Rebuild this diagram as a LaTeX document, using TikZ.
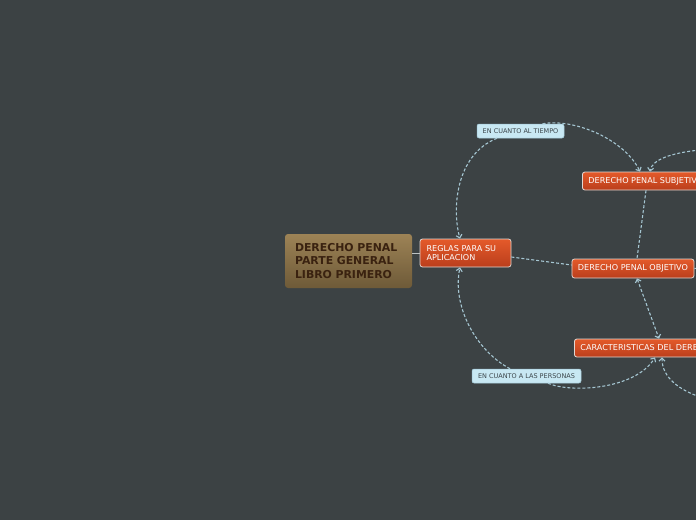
\documentclass[tikz,border=0pt]{standalone}
\usepackage{fontspec}
\setmainfont{DejaVu Sans}
\usetikzlibrary{arrows.meta}
\definecolor{bg}{RGB}{60,66,68}
\definecolor{maintop}{RGB}{157,131,86}
\definecolor{mainbot}{RGB}{110,90,56}
\definecolor{maintext}{RGB}{58,34,16}
\definecolor{ortop}{RGB}{228,90,42}
\definecolor{orbot}{RGB}{186,62,28}
\definecolor{orborder}{RGB}{225,215,210}
\definecolor{lblfill}{RGB}{200,232,243}
\definecolor{lbldraw}{RGB}{160,200,215}
\definecolor{lbltext}{RGB}{60,70,75}
\definecolor{rel}{RGB}{165,198,210}
\definecolor{solidline}{RGB}{190,195,195}
\tikzset{
  mainbox/.style={rounded corners=3pt, top color=maintop, bottom color=mainbot,
    text=maintext, font=\fontsize{10.9}{13.8}\selectfont\bfseries,
    align=left, text width=107pt, inner xsep=10pt, minimum height=54pt},
  orbox/.style={rounded corners=2.5pt, top color=ortop, bottom color=orbot,
    draw=orborder, line width=0.8pt, text=white,
    font=\fontsize{8.1}{9.2}\selectfont, minimum height=18pt, inner xsep=6pt},
  lbl/.style={rounded corners=2pt, fill=lblfill, draw=lbldraw, line width=0.5pt,
    text=lbltext, font=\fontsize{6.5}{7}\selectfont, minimum height=14pt, inner sep=1pt},
  relline/.style={draw=rel, line width=1.1pt, dash pattern=on 3pt off 2pt},
  tip/.style={-{Straight Barb[length=3pt,width=6pt]}},
  bitip/.style={{Straight Barb[length=3pt,width=6pt]}-{Straight Barb[length=3pt,width=6pt]}}
}
\begin{document}
\begin{tikzpicture}[x=1pt,y=-1pt]
\fill[bg] (0,0) rectangle (696,520);
\useasboundingbox (0,0) rectangle (696,520);
\clip (0,0) rectangle (696,520);

\node[mainbox] (main) at (348.5,261) {DERECHO PENAL\\PARTE GENERAL\\LIBRO PRIMERO};
\node[orbox, align=left, text width=78pt, inner xsep=6.5pt, minimum height=28pt] (reglas) at (465.5,253) {REGLAS PARA SU\\APLICACION};
\node[lbl, minimum width=87pt] (tiempo) at (520.5,131) {EN CUANTO AL TIEMPO};
\node[orbox, anchor=west] (subj) at (582,181) {DERECHO PENAL SUBJETIVO};
\node[orbox, minimum width=122pt, minimum height=19pt] (obj) at (633,268.5) {DERECHO PENAL OBJETIVO};
\node[orbox, anchor=west] (carac) at (574,348) {CARACTERISTICAS DEL DERECHO PENAL};
\node[lbl, minimum width=109pt] (personas) at (526.5,376) {EN CUANTO A LAS PERSONAS};

\coordinate (offA) at (700,150);
\coordinate (offB) at (700,397);
\coordinate (offC) at (700,268);

% main -> reglas
\draw[solidline, line width=0.8pt] ([yshift=8pt]main.east) -- (reglas.west);

% relationships
\draw[relline, tip] ([xshift=-23.5pt]tiempo.south) .. controls (455,155) and (452,210) .. ([xshift=-5.5pt]reglas.north);
\draw[relline, tip] ([xshift=22pt]tiempo.north) .. controls (575,118) and (625,140) .. ([xshift=58pt]subj.north west);
\draw[relline, tip] (offA) .. controls (670,153) and (652,160) .. ([xshift=68pt]subj.north west);
\draw[relline] ([xshift=64pt]subj.south west) -- ([xshift=4pt]obj.north);
\draw[relline] ([yshift=-4pt]reglas.east) -- ([yshift=3.5pt]obj.west);
\draw[relline] (obj.east) -- (offC);
\draw[relline, bitip] ([xshift=4pt]obj.south) -- ([xshift=85pt]carac.north west);
\draw[relline, tip] ([xshift=-16.5pt]personas.north) .. controls (475,350) and (452,305) .. ([xshift=-5.5pt]reglas.south);
\draw[relline, tip] ([xshift=21.5pt]personas.south) .. controls (570,393) and (635,390) .. ([xshift=81pt]carac.south west);
\draw[relline, tip] (offB) .. controls (680,390) and (662,378) .. ([xshift=88pt]carac.south west);
\end{tikzpicture}
\end{document}
